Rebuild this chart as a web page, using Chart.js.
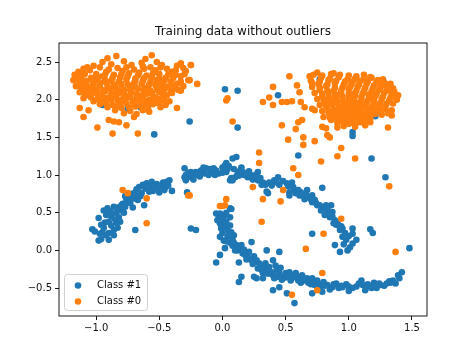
<!DOCTYPE html>
<html><head><meta charset="utf-8">
<script src="https://cdn.jsdelivr.net/npm/chart.js@4/dist/chart.umd.min.js"></script>
<style>html,body{margin:0;padding:0;background:#fff}</style>
</head><body>
<canvas id="c" width="474" height="355"></canvas>
<script>
const titleText = 'Training data without outliers';
const seriesNames = ['Class #1', 'Class #0'];
const xTicks = [-1.0, -0.5, 0.0, 0.5, 1.0, 1.5];
const yTicks = [-0.5, 0.0, 0.5, 1.0, 1.5, 2.0, 2.5];
const xRange = [-1.294, 1.619];
const yRange = [-0.871, 2.753];

// Class #1 (blue): two moons + a few stray points
const class1 = [
[-1.03,0.28],[-1.01,0.25],[-0.98,0.13],[-0.96,0.15],[-0.9,0.14],[-0.98,0.43],[-0.94,0.53],[-0.91,0.56],[-0.87,0.49],[-0.9,0.38],
[-0.94,0.3],[-0.86,0.27],[-0.9,0.23],[-0.92,0.2],[-0.84,0.37],[-0.82,0.44],[-0.8,0.53],[-0.83,0.57],[-0.79,0.62],[-0.76,0.67],
[-0.74,0.71],[-0.7,0.69],[-0.69,0.77],[-0.66,0.84],[-0.63,0.87],[-0.6,0.89],[-0.56,0.91],[-0.54,0.83],[-0.5,0.77],[-0.46,0.8],
[-0.44,0.91],[-0.42,0.93],[-0.4,0.79],[-0.71,0.57],[-0.62,0.6],[-0.67,0.67],[-0.69,0.27],
[-0.88,0.45],[-0.86,0.58],[-0.85,0.41],[-0.92,0.47],[-0.88,0.33],[-0.8,0.6],[-0.77,0.72],[-0.72,0.75],[-0.68,0.81],[-0.64,0.76],
[-0.61,0.82],[-0.57,0.86],[-0.52,0.88],[-0.48,0.86],[-0.45,0.84],[-0.58,0.78],[-0.75,0.64],[-0.78,0.5],[-0.83,0.3],[-0.96,0.34],
[-0.95,0.24],[-0.86,0.2],
[-0.97,0.22],[-0.93,0.37],[-0.89,0.52],[-0.84,0.5],[-0.81,0.38],[-0.77,0.58],[-0.73,0.63],[-0.7,0.73],[-0.65,0.72],[-0.59,0.85],
[-0.55,0.79],[-0.51,0.83],[-0.47,0.9],[-0.43,0.86],
[-0.29,1.0],[-0.29,0.93],[-0.25,0.97],[-0.21,1.04],[-0.17,1.06],[-0.13,1.09],[-0.09,1.04],[-0.05,1.06],[0.0,1.1],[0.03,1.16],
[0.08,1.22],[0.06,0.93],[0.1,0.97],[-0.28,0.77],[-0.25,0.29],[-0.21,0.27],[-0.3,1.09],[-0.3,0.97],[-0.22,1.0],[-0.14,1.02],
[-0.06,1.0],[0.02,1.13],[0.11,1.24],[0.07,0.96],[0.15,1.1],[0.19,1.02],[0.25,0.97],[0.31,0.87],[0.28,1.04],[0.0,1.03],
[0.03,1.04],[0.08,0.93],[0.12,1.02],[0.16,1.04],[0.2,0.97],[0.24,0.94],[0.28,0.93],[0.32,0.9],[0.37,0.9],[0.41,0.93],
[0.44,0.97],[0.45,0.87],[0.51,0.89],[0.55,0.9],[0.56,0.84],[0.57,0.8],[0.53,0.73],[0.63,0.73],[0.67,0.8],[0.71,0.73],
[0.73,0.67],[0.79,0.83],[0.75,0.6],[0.79,0.57],[0.83,0.53],[0.87,0.51],[0.85,0.44],[0.89,0.4],[0.91,0.36],[0.95,0.29],
[1.03,0.29],[1.17,0.28],[0.36,0.76],[0.6,1.26],[0.53,0.77],[0.61,0.73],[0.69,0.7],[0.71,0.64],[0.77,0.6],[0.83,0.56],
[0.87,0.45],[0.9,0.34],[0.93,0.27],[0.97,0.23],[0.98,0.14],[1.01,0.04],[1.03,0.09],[1.06,0.14],[1.03,0.22],[0.99,0.0],
[0.93,-0.02],[0.89,0.07],[1.19,0.23],[0.71,0.22],[0.35,0.78],[-0.18,0.98],[-0.1,1.08],[-0.25,1.04],[0.04,1.08],[0.14,1.06],
[0.22,1.0],[0.6,0.8],[0.65,0.68],[0.81,0.47],[0.95,0.18],[0.92,0.33],[0.86,0.6],
[-0.27,1.03],[-0.23,0.94],[-0.19,1.02],[-0.15,1.1],[-0.11,1.0],[-0.07,1.09],[-0.03,1.02],[0.01,1.07],[0.05,1.12],[0.09,1.08],
[0.13,0.99],[0.17,1.0],[0.21,1.05],[0.26,1.0],[0.3,0.96],[0.34,0.87],[0.39,0.86],[0.43,0.9],[0.48,0.92],[0.52,0.85],
[0.58,0.76],[0.62,0.77],[0.66,0.74],[0.7,0.68],[0.74,0.63],[0.78,0.53],[0.82,0.6],[0.85,0.49],[0.88,0.36],[0.94,0.32],
[0.96,0.08],[1.0,0.19],
[-0.05,0.49],[-0.03,0.43],[-0.02,0.36],[-0.01,0.29],[0.03,0.38],[0.06,0.44],[0.06,0.56],[0.03,0.31],[0.0,0.23],[0.04,0.18],
[0.07,0.24],[0.08,0.14],[0.06,0.1],[0.11,0.07],[0.15,0.07],[0.23,0.11],[0.12,0.0],[0.16,-0.04],[0.2,-0.09],[0.23,-0.13],
[0.27,-0.13],[0.29,-0.17],[0.33,-0.22],[0.31,-0.26],[0.36,-0.26],[0.4,-0.13],[0.35,0.0],[0.45,-0.02],[0.02,0.03],[-0.05,-0.16],
[0.15,-0.35],[0.13,-0.42],[0.27,-0.37],[0.32,-0.37],[0.4,-0.33],[0.43,-0.26],[0.45,-0.3],[0.48,-0.35],[0.5,-0.3],[0.53,-0.29],
[0.56,-0.33],[0.59,-0.35],[0.61,-0.37],[0.63,-0.33],[0.67,-0.37],[0.69,-0.4],[0.71,-0.37],[0.73,-0.46],[0.77,-0.49],[0.83,-0.46],
[0.87,-0.49],[0.9,-0.44],[0.95,-0.49],[1.03,-0.5],[1.1,-0.4],[1.11,-0.46],[1.13,-0.53],[1.18,-0.5],[1.25,-0.46],[1.3,-0.44],
[1.35,-0.4],[1.4,-0.37],[1.42,-0.29],[1.48,0.03],[0.51,-0.57],[0.71,-0.57],[0.79,-0.55],[0.57,-0.7],[0.45,-0.49],[0.4,-0.53],
[0.13,-0.16],[0.25,-0.35],[-0.02,-0.06],
[-0.02,0.49],[0.07,0.55],[0.0,0.38],[0.04,0.27],[-0.02,0.18],[0.01,0.13],[0.1,0.0],[0.08,0.06],[0.14,0.03],[0.18,-0.06],
[0.21,-0.02],[0.25,-0.08],[0.3,-0.2],[0.34,-0.17],[0.37,-0.22],[0.39,-0.29],[0.42,-0.2],[0.46,-0.23],[0.5,-0.36],[0.54,-0.4],
[0.58,-0.3],[0.62,-0.43],[0.65,-0.4],[0.7,-0.45],[0.75,-0.4],[0.8,-0.42],[0.85,-0.52],[0.92,-0.5],[0.98,-0.45],[1.0,-0.54],
[1.06,-0.48],[1.15,-0.45],[1.2,-0.43],[1.22,-0.5],[1.28,-0.47],[1.33,-0.43],[1.37,-0.44],[1.39,-0.33],[0.06,0.33],[0.09,0.2],[-0.04,0.4],
[0.01,0.45],[0.03,0.5],[-0.01,0.33],[0.05,0.21],[0.03,0.12],[0.09,0.1],[0.12,0.04],[0.17,0.01],[0.19,-0.12],[0.24,-0.18],
[0.28,-0.24],[0.32,-0.3],[0.36,-0.31],[0.41,-0.37],[0.44,-0.35],[0.47,-0.39],[0.52,-0.33],[0.55,-0.37],[0.6,-0.4],[0.64,-0.37],
[0.68,-0.43],[0.72,-0.41],[0.76,-0.45],[0.81,-0.47],[0.88,-0.45],[0.94,-0.47],[1.0,-0.48],[1.08,-0.44],[1.16,-0.48],[1.24,-0.44],[1.32,-0.41],
[-0.95,1.93],[-0.75,1.88],[-0.65,1.9],[-0.54,1.54],[0.02,2.14],[0.12,2.12],[-0.26,1.71],[0.12,1.63],[0.44,2.06],[0.77,2.27],
[1.21,1.78],[1.03,1.57],[1.03,1.52],[1.18,1.22],[1.29,0.97]
];

// Class #0 (orange): two blobs + scattered points
const class0 = [
[-0.84,2.58],[-0.56,2.59],[-0.91,2.55],[-0.61,2.54],
[-0.95,2.5],[-0.78,2.51],[-0.64,2.49],[-0.52,2.5],[-0.33,2.48],
[-1.02,2.45],[-0.88,2.47],[-0.72,2.46],[-0.63,2.44],[-0.48,2.46],[-0.36,2.45],[-0.25,2.46],
[-1.1,2.41],[-0.97,2.43],[-0.83,2.42],[-0.7,2.4],[-0.57,2.43],[-0.44,2.41],[-0.31,2.42],
[-1.14,2.37],[-1.05,2.39],[-0.92,2.37],[-0.79,2.38],[-0.66,2.36],[-0.53,2.39],[-0.4,2.37],[-0.29,2.38],
[-1.17,2.33],[-1.0,2.34],[-0.86,2.33],[-0.74,2.35],[-0.6,2.32],[-0.5,2.34],[-0.37,2.33],
[-1.12,2.3],[-1.04,2.29],[-0.95,2.31],[-0.81,2.3],[-0.69,2.28],[-0.56,2.3],[-0.45,2.29],[-0.33,2.31],
[-1.18,2.26],[-1.08,2.25],[-0.99,2.27],[-0.88,2.25],[-0.76,2.27],[-0.63,2.25],[-0.52,2.26],[-0.41,2.24],[-0.27,2.26],
[-1.13,2.22],[-1.02,2.21],[-0.92,2.23],[-0.8,2.21],[-0.7,2.22],[-0.58,2.2],[-0.47,2.22],[-0.36,2.21],
[-1.16,2.18],[-1.06,2.17],[-0.97,2.19],[-0.85,2.17],[-0.73,2.18],[-0.62,2.16],[-0.53,2.19],[-0.43,2.17],[-0.31,2.18],
[-1.1,2.14],[-1.0,2.13],[-0.89,2.15],[-0.78,2.13],[-0.67,2.14],[-0.57,2.12],[-0.46,2.14],[-0.35,2.13],
[-1.13,2.1],[-1.03,2.09],[-0.93,2.11],[-0.82,2.09],[-0.72,2.1],[-0.6,2.08],[-0.5,2.1],[-0.4,2.09],
[-1.07,2.06],[-0.96,2.05],[-0.86,2.07],[-0.75,2.05],[-0.64,2.06],[-0.54,2.04],[-0.44,2.06],
[-1.1,2.02],[-0.99,2.01],[-0.9,2.03],[-0.79,2.01],[-0.68,2.02],[-0.58,2.0],[-0.48,2.02],
[-1.02,1.98],[-0.93,1.97],[-0.83,1.99],[-0.71,1.97],[-0.61,1.98],[-0.52,1.96],[-0.42,1.98],
[-0.97,1.94],[-0.87,1.93],[-0.76,1.95],[-0.65,1.93],[-0.55,1.94],[-0.45,1.93],
[-0.91,1.9],[-0.8,1.89],[-0.69,1.91],[-0.59,1.89],[-0.49,1.9],
[-0.85,1.86],[-0.73,1.85],[-0.63,1.86],[-0.78,1.82],[-0.68,1.81],
[-1.07,2.43],[-0.9,2.4],[-0.76,2.43],[-0.62,2.41],[-0.49,2.43],[-0.37,2.39],
[-1.09,2.34],[-0.93,2.33],[-0.8,2.34],[-0.67,2.32],[-0.55,2.35],[-0.43,2.33],[-0.3,2.34],
[-1.15,2.3],[-0.99,2.3],[-0.87,2.29],[-0.75,2.31],[-0.62,2.29],[-0.5,2.28],[-0.39,2.29],
[-1.13,2.24],[-1.03,2.25],[-0.93,2.26],[-0.82,2.24],[-0.69,2.25],[-0.57,2.24],[-0.46,2.26],[-0.33,2.24],
[-1.08,2.2],[-0.97,2.22],[-0.86,2.2],[-0.75,2.2],[-0.64,2.21],[-0.52,2.22],[-0.41,2.2],
[-1.12,2.16],[-1.02,2.16],[-0.91,2.17],[-0.8,2.16],[-0.69,2.17],[-0.59,2.15],[-0.48,2.17],[-0.38,2.16],
[-1.06,2.12],[-0.95,2.13],[-0.84,2.12],[-0.73,2.13],[-0.62,2.12],[-0.52,2.13],[-0.41,2.12],
[-1.09,2.07],[-0.99,2.08],[-0.88,2.08],[-0.78,2.08],[-0.68,2.07],[-0.56,2.08],[-0.47,2.07],
[-1.04,2.03],[-0.94,2.03],[-0.84,2.04],[-0.73,2.03],[-0.63,2.04],[-0.52,2.02],
[-0.97,1.99],[-0.88,2.0],[-0.77,1.98],[-0.66,1.99],[-0.56,1.98],[-0.46,1.99],
[-0.92,1.95],[-0.81,1.94],[-0.7,1.95],[-0.6,1.94],[-0.5,1.95],
[-0.84,1.91],[-0.74,1.9],[-0.64,1.9],
[-1.13,1.89],[-1.1,1.77],[-1.06,1.86],[-0.99,1.63],[-0.9,1.73],[-0.86,1.71],[-0.82,1.7],[-0.87,1.55],[-0.76,1.66],[-0.67,1.55],
[-0.7,1.77],[-0.58,1.84],[-0.36,1.89],[-0.33,2.12],[-0.2,2.21],[-0.26,2.26],[-0.25,2.46],[-0.33,2.48],[-1.16,2.28],[-1.13,2.35],
[0.72,2.33],[0.86,2.34],[1.0,2.32],[1.12,2.33],
[0.78,2.29],[0.92,2.3],[1.05,2.28],[1.18,2.29],[1.27,2.27],
[0.7,2.25],[0.84,2.26],[0.97,2.24],[1.09,2.25],[1.22,2.23],
[0.76,2.21],[0.89,2.22],[1.02,2.2],[1.14,2.21],[1.26,2.19],[1.33,2.21],
[0.71,2.17],[0.82,2.18],[0.95,2.16],[1.07,2.17],[1.19,2.15],[1.3,2.17],
[0.77,2.13],[0.88,2.12],[1.0,2.14],[1.12,2.12],[1.24,2.13],[1.36,2.11],
[0.73,2.09],[0.84,2.1],[0.94,2.08],[1.05,2.09],[1.16,2.07],[1.28,2.09],
[0.79,2.05],[0.9,2.04],[1.0,2.06],[1.1,2.04],[1.21,2.05],[1.33,2.03],
[0.75,2.01],[0.85,2.02],[0.95,2.0],[1.04,2.01],[1.15,1.99],[1.26,2.01],[1.38,2.0],
[0.81,1.97],[0.91,1.96],[1.0,1.98],[1.09,1.96],[1.2,1.97],[1.3,1.95],
[0.77,1.93],[0.87,1.94],[0.96,1.92],[1.05,1.93],[1.14,1.91],[1.24,1.93],
[0.83,1.89],[0.93,1.88],[1.01,1.9],[1.1,1.88],[1.19,1.89],[1.29,1.87],
[0.79,1.85],[0.88,1.86],[0.97,1.84],[1.06,1.85],[1.15,1.83],[1.25,1.85],
[0.85,1.81],[0.94,1.8],[1.03,1.82],[1.12,1.8],[1.21,1.81],
[0.8,1.77],[0.9,1.78],[0.99,1.76],[1.08,1.77],[1.17,1.75],
[0.86,1.73],[0.95,1.72],[1.04,1.74],[1.13,1.72],
[0.91,1.69],[1.0,1.68],[1.09,1.7],[0.96,1.65],[1.05,1.64],
[0.79,2.32],[0.93,2.33],[1.06,2.31],
[0.85,2.28],[0.99,2.27],[1.12,2.27],[1.23,2.26],
[0.77,2.24],[0.9,2.25],[1.03,2.24],[1.15,2.24],[1.28,2.23],
[0.83,2.2],[0.96,2.2],[1.08,2.2],[1.2,2.19],[1.31,2.2],
[0.77,2.16],[0.89,2.16],[1.01,2.17],[1.13,2.16],[1.25,2.16],[1.35,2.15],
[0.83,2.12],[0.94,2.12],[1.06,2.12],[1.18,2.11],[1.3,2.12],
[0.79,2.08],[0.89,2.08],[1.0,2.09],[1.11,2.08],[1.22,2.08],[1.34,2.07],
[0.84,2.04],[0.95,2.04],[1.05,2.05],[1.16,2.04],[1.27,2.04],[1.37,2.04],
[0.8,2.0],[0.9,2.0],[1.0,2.01],[1.1,2.0],[1.2,2.01],[1.32,1.99],
[0.86,1.96],[0.96,1.96],[1.05,1.97],[1.14,1.95],[1.25,1.96],[1.35,1.95],
[0.82,1.92],[0.92,1.91],[1.01,1.93],[1.1,1.92],[1.19,1.92],[1.29,1.91],
[0.88,1.87],[0.97,1.88],[1.06,1.89],[1.15,1.87],[1.24,1.88],
[0.84,1.83],[0.93,1.84],[1.02,1.85],[1.1,1.84],[1.2,1.84],
[0.9,1.8],[0.99,1.8],[1.08,1.81],[1.17,1.79],[1.26,1.8],
[0.85,1.76],[0.95,1.76],[1.04,1.78],[1.13,1.76],
[0.91,1.73],[1.0,1.72],[1.09,1.73],[0.96,1.69],[1.05,1.68],
[0.32,1.97],[0.37,2.03],[0.4,2.17],[0.4,1.93],[0.47,1.97],[0.51,1.97],[0.55,1.98],[0.62,1.97],[0.47,1.66],[0.58,1.61],
[0.52,1.47],[0.64,1.5],[0.73,1.45],[0.64,1.4],[0.94,1.36],[0.53,2.31],[0.69,2.31],[0.75,2.36],[0.88,2.35],[1.17,2.3],
[1.27,2.26],[1.34,2.12],[1.38,2.03],[1.34,1.86],[1.34,1.79],[1.31,1.63],[1.13,1.66],[0.91,1.63],[0.85,1.5],[0.82,1.62],
[0.59,2.19],[0.61,2.1],[0.71,2.22],[0.65,1.9],[0.71,1.88],[0.6,1.7],[0.63,1.73],[0.73,1.86],[0.79,1.64],[0.83,1.53],
[1.02,1.7],[1.17,1.7],[1.31,1.82],[1.39,2.06],
[0.03,1.99],[0.04,2.02],[0.08,1.71],[0.29,1.3],[0.29,1.16],[0.24,0.84],[0.48,0.8],[0.32,0.68],[0.46,0.65],[1.32,0.85],
[0.03,0.68],[0.0,0.59],[0.31,0.38],[0.94,0.42],[-0.27,0.73],[-0.02,0.59],[0.02,0.6],[0.8,0.22],[0.66,0.02],[0.79,-0.3],
[0.75,-0.53],[0.55,-0.59],[1.37,-0.02],[-0.79,0.8],[-0.75,0.76],[-0.6,0.69],[-0.6,0.36],[-0.26,0.73],[0.91,1.25],[1.05,1.22],
[0.78,1.18],[0.56,1.09],[0.6,1.0]
];

const BLUE = '#1f77b4', ORANGE = '#ff7f0e';
const FONT = '"DejaVu Sans", sans-serif';
const R = 3.3;
const fmt = v => { const s = Math.abs(v).toFixed(1); return v < -1e-9 ? '\u2212' + s : s; };
const toPts = arr => arr.map(p => ({x: p[0], y: p[1]}));

const decor = {
  id: 'decor',
  afterDatasetsDraw(chart) {
    const {ctx, chartArea: a} = chart;
    ctx.save();
    ctx.strokeStyle = '#000';
    ctx.lineWidth = 0.9;
    ctx.strokeRect(a.left, a.top, a.right - a.left, a.bottom - a.top);
    ctx.fillStyle = '#111';
    ctx.font = '12px ' + FONT;
    ctx.textAlign = 'center';
    ctx.textBaseline = 'middle';
    ctx.fillText(titleText, (a.left + a.right) / 2, 32);
    const lx = a.left + 5.5, ly = a.bottom - 41.5, lw = 83, lh = 36, r = 3;
    ctx.beginPath();
    ctx.moveTo(lx + r, ly);
    ctx.lineTo(lx + lw - r, ly); ctx.arcTo(lx + lw, ly, lx + lw, ly + r, r);
    ctx.lineTo(lx + lw, ly + lh - r); ctx.arcTo(lx + lw, ly + lh, lx + lw - r, ly + lh, r);
    ctx.lineTo(lx + r, ly + lh); ctx.arcTo(lx, ly + lh, lx, ly + lh - r, r);
    ctx.lineTo(lx, ly + r); ctx.arcTo(lx, ly, lx + r, ly, r);
    ctx.closePath();
    ctx.fillStyle = 'rgba(255,255,255,0.8)';
    ctx.fill();
    ctx.strokeStyle = '#d0d0d0';
    ctx.lineWidth = 1;
    ctx.stroke();
    const cols = [BLUE, ORANGE];
    seriesNames.forEach((name, i) => {
      const cy = ly + 11 + i * 16;
      ctx.beginPath();
      ctx.arc(lx + 13.5, cy, R, 0, Math.PI * 2);
      ctx.fillStyle = cols[i];
      ctx.fill();
      ctx.fillStyle = '#111';
      ctx.font = '10px ' + FONT;
      ctx.textAlign = 'left';
      ctx.textBaseline = 'middle';
      ctx.fillText(name, lx + 32.5, cy);
    });
    ctx.restore();
  }
};

const axisCommon = {
  type: 'linear',
  grid: {drawOnChartArea: false, drawTicks: true, tickLength: 4, color: '#000', tickWidth: 0.9},
  border: {display: false},
  ticks: {font: {family: FONT, size: 10}, color: '#111', maxRotation: 0, autoSkip: false, callback: v => fmt(v)}
};

new Chart(document.getElementById('c'), {
  type: 'scatter',
  data: {
    datasets: [
      {label: seriesNames[1], data: toPts(class0), backgroundColor: ORANGE, borderColor: ORANGE, borderWidth: 0, pointRadius: R, pointHoverRadius: R},
      {label: seriesNames[0], data: toPts(class1), backgroundColor: BLUE, borderColor: BLUE, borderWidth: 0, pointRadius: R, pointHoverRadius: R}
    ]
  },
  options: {
    responsive: false,
    animation: false,
    devicePixelRatio: 1,
    layout: {padding: {top: 43, right: 47, left: 0, bottom: 0}},
    plugins: {legend: {display: false}, title: {display: false}, tooltip: {enabled: false}},
    events: [],
    scales: {
      x: Object.assign({}, axisCommon, {
        min: xRange[0], max: xRange[1],
        afterBuildTicks: s => { s.ticks = xTicks.map(v => ({value: v})); },
        afterFit: s => { s.height = 39; },
        ticks: Object.assign({}, axisCommon.ticks, {padding: 2})
      }),
      y: Object.assign({}, axisCommon, {
        min: yRange[0], max: yRange[1],
        afterBuildTicks: s => { s.ticks = yTicks.map(v => ({value: v})); },
        afterFit: s => { s.width = 59; },
        ticks: Object.assign({}, axisCommon.ticks, {padding: 3})
      })
    }
  },
  plugins: [decor]
});
</script>
</body></html>
